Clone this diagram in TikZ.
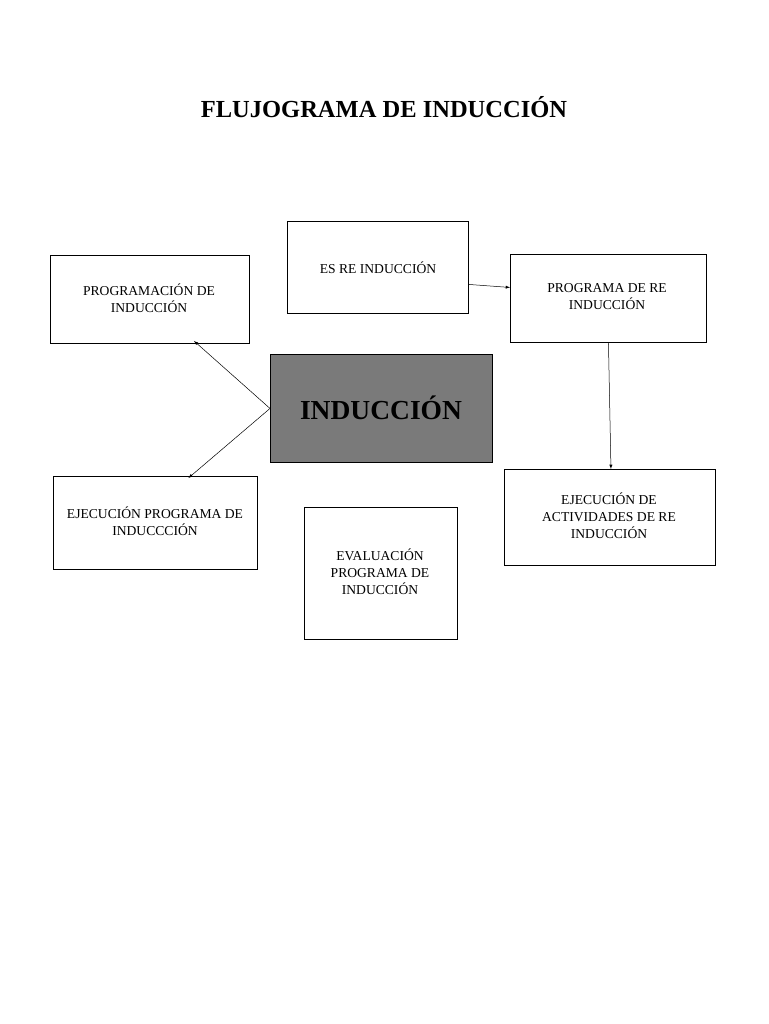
\documentclass[tikz,border=0pt]{standalone}
\usepackage{fontspec}
\setmainfont{Liberation Serif}
\begin{document}
\begin{tikzpicture}[x=1pt,y=-1pt,
  box/.style={draw,line width=0.9pt,minimum width=#1,inner sep=0pt,anchor=north west},
  lbl/.style={font=\fontsize{13.6}{17}\selectfont,align=center},
  arr/.style={-latex,line width=0.5pt}]
\useasboundingbox (0,0) rectangle (768,1024);
\node[font=\bfseries\fontsize{24.5}{28}\selectfont] (title) at (384,107) {FLUJOGRAMA DE INDUCCIÓN};
\node[box=181pt,minimum height=92pt] (es) at (287,221) {};
\node[lbl] (est) at (378,268) {ES RE INDUCCIÓN};
\node[box=199pt,minimum height=88pt] (prog) at (50,255) {};
\node[lbl] (progt) at (149,298) {PROGRAMACIÓN DE\\INDUCCIÓN};
\node[box=196pt,minimum height=88pt] (pre) at (510,254) {};
\node[lbl] (pret) at (607,297) {PROGRAMA DE RE\\INDUCCIÓN};
\node[box=222pt,minimum height=108pt,fill=gray!85!black,fill opacity=0.9,text opacity=1] (ind) at (270,354) {};
\node[font=\bfseries\fontsize{27.5}{30}\selectfont] (indt) at (381,408) {INDUCCIÓN};
\node[box=204pt,minimum height=93pt] (eje) at (53,476) {};
\node[lbl] (ejet) at (155,521) {EJECUCIÓN PROGRAMA DE\\INDUCCCIÓN};
\node[box=153pt,minimum height=132pt] (ev) at (304,507) {};
\node[lbl] (evt) at (380,572) {EVALUACIÓN\\PROGRAMA DE\\INDUCCIÓN};
\node[box=211pt,minimum height=96pt] (act) at (504,469) {};
\node[lbl] (actt) at (609,516) {EJECUCIÓN DE\\ACTIVIDADES DE RE\\INDUCCIÓN};
\draw[arr] (ind.west) -- ([xshift=44pt,yshift=3pt]prog.south);
\draw[arr] (ind.west) -- ([xshift=33pt,yshift=-2pt]eje.north);
\draw[arr] ([yshift=-17pt]es.east) -- ([yshift=11pt]pre.west);
\draw[arr] (pre.south) -- ([xshift=1pt]act.north);
\end{tikzpicture}
\end{document}
